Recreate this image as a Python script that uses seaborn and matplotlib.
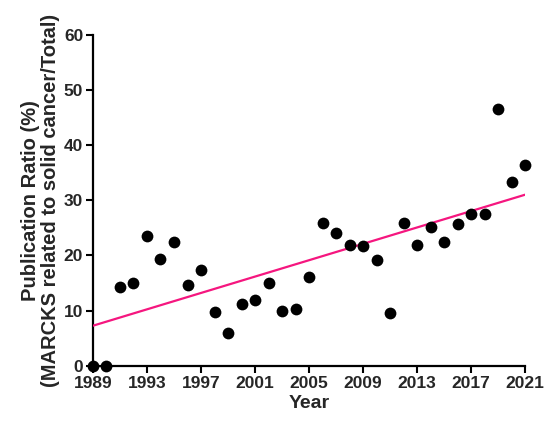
import numpy as np
import pandas as pd
import seaborn as sns
import matplotlib
matplotlib.use("Agg")
import matplotlib.pyplot as plt

sns.set_style("ticks")
plt.rcParams['font.family'] = ['Liberation Sans', 'DejaVu Sans']
plt.rcParams['font.weight'] = 'bold'

years = list(range(1989, 2022))
ratio = [0.0, 0.0, 14.3, 15.1, 23.5, 19.4, 22.5, 14.6, 17.4, 9.7,
         6.0, 11.3, 12.0, 15.1, 10.0, 10.3, 16.1, 25.8, 24.1, 21.9,
         21.7, 19.1, 9.5, 25.8, 21.9, 25.1, 22.5, 25.7, 27.6, 27.6,
         46.6, 33.3, 36.3]
xticks = list(range(1989, 2022, 4))
yticks = [0, 10, 20, 30, 40, 50, 60]

df = pd.DataFrame({'Year': years, 'Ratio': ratio})

fig = plt.figure(figsize=(5.5, 4.33), dpi=100)
ax = fig.add_axes([0.169, 0.155, 0.786, 0.765])

sns.regplot(data=df, x='Year', y='Ratio', ax=ax, ci=None, truncate=True,
            scatter_kws={'s': 72, 'color': 'black', 'alpha': 1, 'clip_on': False,
                         'zorder': 5, 'linewidths': 0},
            line_kws={'color': '#f5167f', 'lw': 1.6, 'zorder': 3})

ax.set_xlim(1989, 2021)
ax.set_ylim(0, 60)
ax.set_xticks(xticks)
ax.set_yticks(yticks)
ax.tick_params(axis='both', width=1.5, length=5, labelsize=12.5, color='black', pad=2)
for lab in ax.get_xticklabels() + ax.get_yticklabels():
    lab.set_fontweight('bold')
for s in ['left', 'bottom']:
    ax.spines[s].set_linewidth(1.6)
    ax.spines[s].set_color('black')
sns.despine(ax=ax)

ax.set_xlabel('Year', fontsize=14, fontweight='bold', labelpad=3)
ax.set_ylabel('Publication Ratio (%)\n(MARCKS related to solid cancer/Total)',
              fontsize=14.5, fontweight='bold', labelpad=3, linespacing=1.05)

fig.savefig('out.png', dpi=100)
